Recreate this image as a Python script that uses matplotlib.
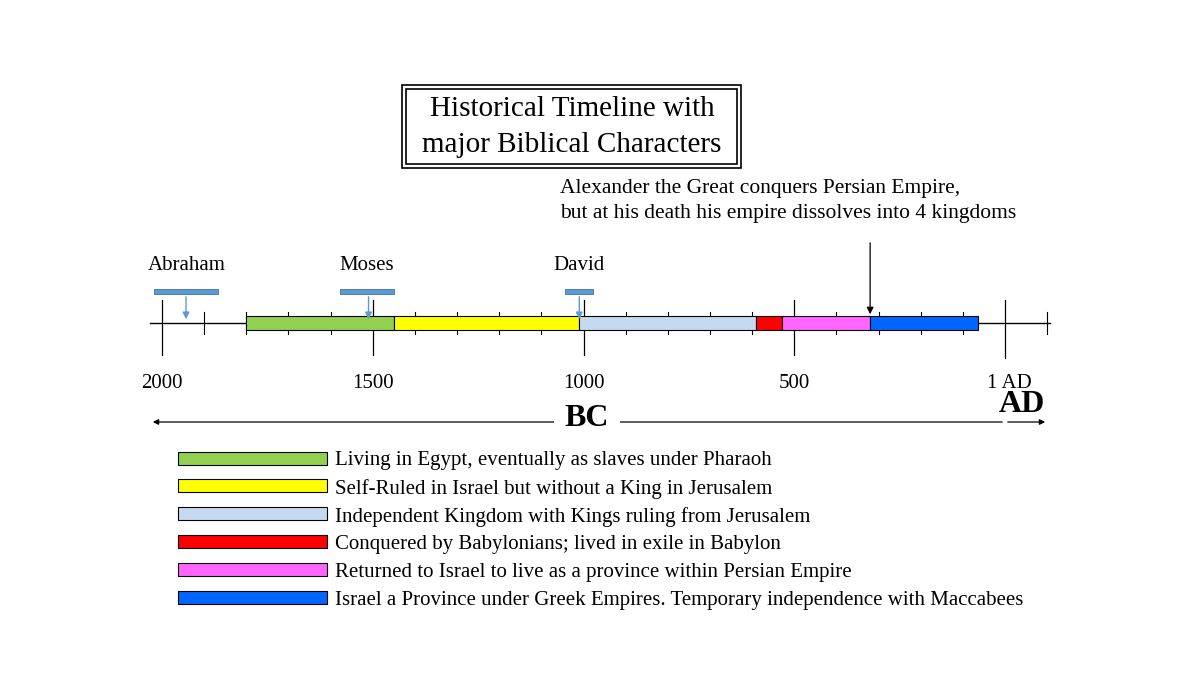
import matplotlib.pyplot as plt
from matplotlib.patches import Rectangle

# years: negative = BC
periods = [(-1800, -1450), (-1450, -1010), (-1010, -590), (-590, -530), (-530, -320), (-320, -63)]
colors = ["#92d050", "#ffff00", "#c5d9f1", "#ff0000", "#ff66ff", "#0066ff"]
labels = ["Living in Egypt, eventually as slaves under Pharaoh",
          "Self-Ruled in Israel but without a King in Jerusalem",
          "Independent Kingdom with Kings ruling from Jerusalem",
          "Conquered by Babylonians; lived in exile in Babylon",
          "Returned to Israel to live as a province within Persian Empire",
          "Israel a Province under Greek Empires. Temporary independence with Maccabees"]
people = ["Abraham", "Moses", "David"]
people_span = [(-2018, -1866), (-1577, -1450), (-1045, -978)]
people_at = [(-1943), (-1510), (-1010)]
major = [-2000, -1500, -1000, -500, 0]
major_lbl = ["2000", "1500", "1000", "500", "1 AD"]
alex_year = -320

plt.rcParams['font.family'] = ['Liberation Serif', 'DejaVu Serif']
fig = plt.figure(figsize=(12, 6.75), dpi=100)
ax = fig.add_axes([0, 0, 1, 1])
s = 0.4215
x0 = -2000 - 162 / s
ax.set_xlim(x0, x0 + 1200 / s)
ax.set_ylim(675, 0)
ax.axis("off")
px = lambda p: x0 + p / s

# title box
ax.add_patch(Rectangle((px(402), 85), px(741) - px(402), 83, fill=False, lw=1.2, ec="black"))
ax.add_patch(Rectangle((px(406), 89), px(737) - px(406), 75, fill=False, lw=1.2, ec="black"))
ax.text(px(572), 127, "Historical Timeline with\nmajor Biblical Characters", ha="center", va="center",
        fontsize=21, linespacing=1.45)

# axis line and ticks
ax.plot([px(150), px(1050)], [323, 323], color="black", lw=1)
for t in range(-1900, 101, 100):
    if t not in major:
        ax.plot([t, t], [312, 334], color="black", lw=0.8)
for t, l in zip(major, major_lbl):
    ax.plot([t, t], [300, 355 if t else 358], color="black", lw=0.9)
    ax.text(t + (10 if t == 0 else 0), 384, l, ha="center", va="center", fontsize=15)

# periods
for (a, b), c in zip(periods, colors):
    ax.add_patch(Rectangle((a, 316), b - a, 14, fc=c, ec="black", lw=0.8, zorder=3))

# people
for name, (a, b), at in zip(people, people_span, people_at):
    ax.add_patch(Rectangle((a, 289), b - a, 5, fc="#5b9bd5", ec="#41719c", lw=0.6, zorder=4))
    ax.annotate("", xy=(at, 322), xytext=(at, 294),
                arrowprops=dict(arrowstyle="-|>", color="#5b9bd5", lw=1, mutation_scale=10), zorder=4)
    ax.text((a + b) / 2, 265, name, ha="center", va="center", fontsize=15)

# Alexander
ax.annotate("", xy=(alex_year, 317), xytext=(alex_year, 240),
            arrowprops=dict(arrowstyle="-|>", color="black", lw=0.9, mutation_scale=10), zorder=5)
ax.text(px(560), 201, "Alexander the Great conquers Persian Empire,\nbut at his death his empire dissolves into 4 kingdoms",
        ha="left", va="center", fontsize=15.5, linespacing=1.4)

# BC / AD arrows
ax.annotate("", xy=(px(150), 422), xytext=(0, 422),
            arrowprops=dict(arrowstyle="-|>", color="black", lw=0.9, mutation_scale=8))
ax.annotate("", xy=(px(1048), 422), xytext=(0, 422),
            arrowprops=dict(arrowstyle="-|>", color="black", lw=0.9, mutation_scale=8))
ax.text(px(587), 419, "BC", ha="center", va="center", fontsize=23, fontweight="bold",
        bbox=dict(fc="white", ec="none", pad=8))
ax.text(px(1022), 405, "AD", ha="center", va="center", fontsize=23, fontweight="bold")

# legend
for i, (c, l) in enumerate(zip(colors, labels)):
    y = 458 + i * 27.8
    ax.add_patch(Rectangle((px(178), y - 6.5), px(327) - px(178), 13, fc=c, ec="black", lw=0.8))
    ax.text(px(335), y + 3, l, ha="left", va="center", fontsize=15)

fig.savefig("out.png", dpi=100)
